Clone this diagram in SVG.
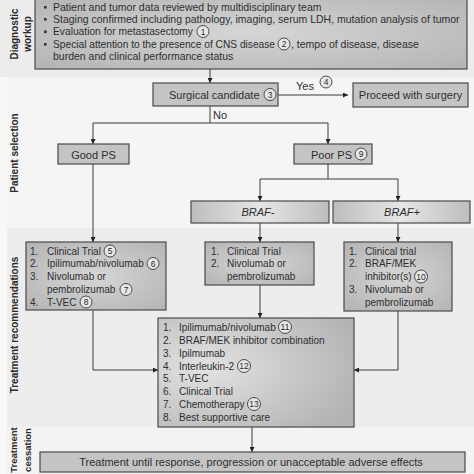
<svg xmlns="http://www.w3.org/2000/svg" width="474" height="474" viewBox="0 0 474 474">
<defs>
<radialGradient id="gBox" cx="50%" cy="50%" r="65%">
<stop offset="0" stop-color="#d6d6d6"/>
<stop offset="1" stop-color="#b6b6b6"/>
</radialGradient>
<linearGradient id="gBraf" x1="0" y1="0" x2="1" y2="0">
<stop offset="0" stop-color="#bdbdbd"/>
<stop offset="0.5" stop-color="#e6e6e6"/>
<stop offset="1" stop-color="#bdbdbd"/>
</linearGradient>
<radialGradient id="gBig" cx="25%" cy="45%" r="80%">
<stop offset="0" stop-color="#e2e2e2"/>
<stop offset="1" stop-color="#b4b4b4"/>
</radialGradient>
<marker id="arr" viewBox="0 0 10 10" refX="10" refY="5" markerWidth="5" markerHeight="5" orient="auto" markerUnits="userSpaceOnUse">
<path d="M0,0 L10,5 L0,10 z" fill="#222"/>
</marker>
<style>
.box{fill:url(#gBox);stroke:#4a4a4a;stroke-width:1.2}
.flat{fill:#c4c4c4;stroke:#4a4a4a;stroke-width:1.2}
.braf{fill:url(#gBraf);stroke:#4a4a4a;stroke-width:1.2}
.t{font-family:"Liberation Sans",Arial,sans-serif;font-size:10.5px;fill:#2e2e2e}
.l{font-family:"Liberation Sans",Arial,sans-serif;font-size:10px;fill:#2e2e2e}
.m{font-family:"Liberation Sans",Arial,sans-serif;font-size:11px;fill:#2e2e2e}
.side{font-family:"Liberation Sans",Arial,sans-serif;font-size:10px;font-weight:bold;fill:#2a2a2a;text-anchor:middle}
.c{fill:none;stroke:#3a3a3a;stroke-width:1}
.nc{fill:#e6e6e6;stroke:#3a3a3a;stroke-width:0.9}
.nt{font-family:"Liberation Sans",Arial,sans-serif;font-size:8.5px;fill:#2a2a2a;text-anchor:middle}
.blt{fill:#333}
</style>
</defs>
<rect x="0" y="0" width="474" height="474" fill="#f8f8f8"/>
<rect x="0" y="0" width="474" height="77" fill="#ececec"/>
<rect x="7" y="77" width="467" height="151" fill="#f5f5f5"/>
<rect x="7" y="228" width="467" height="199" fill="#ededed"/>
<rect x="7" y="427" width="467" height="47" fill="#f3f3f3"/>

<g id="labels">
<text class="side" transform="translate(14,34) rotate(-90)" dy="0.35em">Diagnostic</text>
<text class="side" transform="translate(27,34) rotate(-90)" dy="0.35em">workup</text>
<text class="side" transform="translate(14,153) rotate(-90)" dy="0.35em">Patient selection</text>
<text class="side" transform="translate(14,325) rotate(-90)" dy="0.35em">Treatment recommendations</text>
<text class="side" transform="translate(14,450) rotate(-90)" dy="0.35em" style="font-size:9.5px">Treatment</text>
<text class="side" transform="translate(28,450) rotate(-90)" dy="0.35em" style="font-size:9.5px">cessation</text>
</g>

<g id="connectors">
<path class="c" d="M210,69 V83" marker-end="url(#arr)"/>
<path class="c" d="M278,95 H348" marker-end="url(#arr)"/>
<path class="c" d="M210,106 V123 M93,123 H328"/>
<path class="c" d="M93,123 V144" marker-end="url(#arr)"/>
<path class="c" d="M328,123 V144" marker-end="url(#arr)"/>
<path class="c" d="M328,164 V179 M260,179 H398"/>
<path class="c" d="M260,179 V201" marker-end="url(#arr)"/>
<path class="c" d="M398,179 V201" marker-end="url(#arr)"/>
<path class="c" d="M93,164 V242" marker-end="url(#arr)"/>
<path class="c" d="M260,223 V242" marker-end="url(#arr)"/>
<path class="c" d="M398,223 V242" marker-end="url(#arr)"/>
<path class="c" d="M93,310 V370 H158" marker-end="url(#arr)"/>
<path class="c" d="M260,285 V318" marker-end="url(#arr)"/>
<path class="c" d="M398,311 V370 H354" marker-end="url(#arr)"/>
<path class="c" d="M252,427 V452" marker-end="url(#arr)"/>
<text class="m" x="296" y="90">Yes</text>
<g><circle class="nc" cx="326" cy="82" r="6"/><text class="nt" x="326" y="85">4</text></g>
<text class="m" x="213" y="119">No</text>
</g>

<g id="workup">
<rect class="box" x="35" y="-4" width="432" height="73"/>
<rect class="blt" x="44" y="6" width="2.6" height="2.6"/>
<rect class="blt" x="44" y="18" width="2.6" height="2.6"/>
<rect class="blt" x="44" y="30.5" width="2.6" height="2.6"/>
<rect class="blt" x="44" y="43" width="2.6" height="2.6"/>
<text class="t" x="53" y="10.5">Patient and tumor data reviewed by multidisciplinary team</text>
<text class="t" x="53" y="22.5">Staging confirmed including pathology, imaging, serum LDH, mutation analysis of tumor</text>
<text class="t" x="53" y="35" textLength="140" lengthAdjust="spacingAndGlyphs">Evaluation for metastasectomy</text>
<g><circle class="nc" cx="203" cy="31.5" r="6"/><text class="nt" x="203" y="34.5">1</text></g>
<text class="t" x="53" y="47.5" textLength="222" lengthAdjust="spacingAndGlyphs">Special attention to the presence of CNS disease</text>
<g><circle class="nc" cx="284" cy="44" r="6"/><text class="nt" x="284" y="47">2</text></g>
<text class="t" x="291" y="47.5">, tempo of disease, disease</text>
<text class="t" x="53" y="60">burden and clinical performance status</text>
</g>

<g id="surgical">
<rect class="flat" x="153" y="83" width="125" height="23"/>
<text class="m" x="169" y="98.5">Surgical candidate</text>
<g><circle class="nc" cx="270" cy="94.5" r="6"/><text class="nt" x="270" y="97.5">3</text></g>
</g>

<g id="proceed">
<rect class="flat" x="353" y="83" width="115" height="24"/>
<text class="m" x="410.5" y="99" text-anchor="middle">Proceed with surgery</text>
</g>

<g id="goodps">
<rect class="flat" x="58" y="144" width="71" height="20"/>
<text class="m" x="93.5" y="158.5" text-anchor="middle">Good PS</text>
</g>

<g id="poorps">
<rect class="flat" x="294" y="144" width="78" height="20"/>
<text class="m" x="311" y="158.5">Poor PS</text>
<g><circle class="nc" cx="361" cy="154" r="6"/><text class="nt" x="361" y="157">9</text></g>
</g>

<g id="brafneg">
<rect class="braf" x="191" y="201" width="138" height="22"/>
<text class="m" x="258" y="216" text-anchor="middle" font-style="italic">BRAF-</text>
</g>

<g id="brafpos">
<rect class="braf" x="333" y="201" width="137" height="22"/>
<text class="m" x="402" y="216" text-anchor="middle" font-style="italic">BRAF+</text>
</g>

<g id="good-tx">
<rect class="box" x="26" y="242" width="140" height="68"/>
<text class="l" x="30" y="254.5">1.</text><text class="l" x="47" y="254.5">Clinical Trial</text>
<g><circle class="nc" cx="110" cy="251" r="6"/><text class="nt" x="110" y="254">5</text></g>
<text class="l" x="30" y="267">2.</text><text class="l" x="47" y="267">Ipilimumab/nivolumab</text>
<g><circle class="nc" cx="153" cy="263.5" r="6"/><text class="nt" x="153" y="266.5">6</text></g>
<text class="l" x="30" y="280">3.</text><text class="l" x="47" y="280">Nivolumab or</text>
<text class="l" x="47" y="293">pembrolizumab</text>
<g><circle class="nc" cx="126" cy="289.5" r="6"/><text class="nt" x="126" y="292.5">7</text></g>
<text class="l" x="30" y="305.5">4.</text><text class="l" x="47" y="305.5">T-VEC</text>
<g><circle class="nc" cx="86" cy="302" r="6"/><text class="nt" x="86" y="305">8</text></g>
</g>

<g id="brafneg-tx">
<rect class="box" x="205" y="242" width="109" height="43"/>
<text class="l" x="211" y="254.5">1.</text><text class="l" x="227" y="254.5">Clinical Trial</text>
<text class="l" x="211" y="267">2.</text><text class="l" x="227" y="267">Nivolumab or</text>
<text class="l" x="227" y="280">pembrolizumab</text>
</g>

<g id="brafpos-tx">
<rect class="box" x="344" y="242" width="108" height="69"/>
<text class="l" x="349" y="254.5">1.</text><text class="l" x="365" y="254.5">Clinical trial</text>
<text class="l" x="349" y="267">2.</text><text class="l" x="365" y="267">BRAF/MEK</text>
<text class="l" x="365" y="280">inhibitor(s)</text>
<g><circle class="nc" cx="421" cy="276.5" r="6.5"/><text class="nt" x="421" y="279.5">10</text></g>
<text class="l" x="349" y="293">3.</text><text class="l" x="365" y="293">Nivolumab or</text>
<text class="l" x="365" y="305.5">pembrolizumab</text>
</g>

<g id="combined-tx">
<rect x="158" y="318" width="196" height="109" fill="url(#gBig)" stroke="#4a4a4a" stroke-width="1.2"/>
<text class="l" x="163" y="330.5">1.</text><text class="l" x="179" y="330.5">Ipilimumab/nivolumab</text>
<g><circle class="nc" cx="285" cy="327" r="6.5"/><text class="nt" x="285" y="330">11</text></g>
<text class="l" x="163" y="343.5">2.</text><text class="l" x="179" y="343.5">BRAF/MEK inhibitor combination</text>
<text class="l" x="163" y="356.5">3.</text><text class="l" x="179" y="356.5">Ipilmumab</text>
<text class="l" x="163" y="369.5">4.</text><text class="l" x="179" y="369.5">Interleukin-2</text>
<g><circle class="nc" cx="244" cy="366" r="6.5"/><text class="nt" x="244" y="369">12</text></g>
<text class="l" x="163" y="382">5.</text><text class="l" x="179" y="382">T-VEC</text>
<text class="l" x="163" y="394.5">6.</text><text class="l" x="179" y="394.5">Clinical Trial</text>
<text class="l" x="163" y="407.5">7.</text><text class="l" x="179" y="407.5">Chemotherapy</text>
<g><circle class="nc" cx="254" cy="404" r="6.5"/><text class="nt" x="254" y="407">13</text></g>
<text class="l" x="163" y="420.5">8.</text><text class="l" x="179" y="420.5">Best supportive care</text>
</g>

<g id="cessation">
<rect class="flat" x="40" y="452" width="425" height="20"/>
<text class="m" x="251" y="466" text-anchor="middle">Treatment until response, progression or unacceptable adverse effects</text>
</g>
</svg>
